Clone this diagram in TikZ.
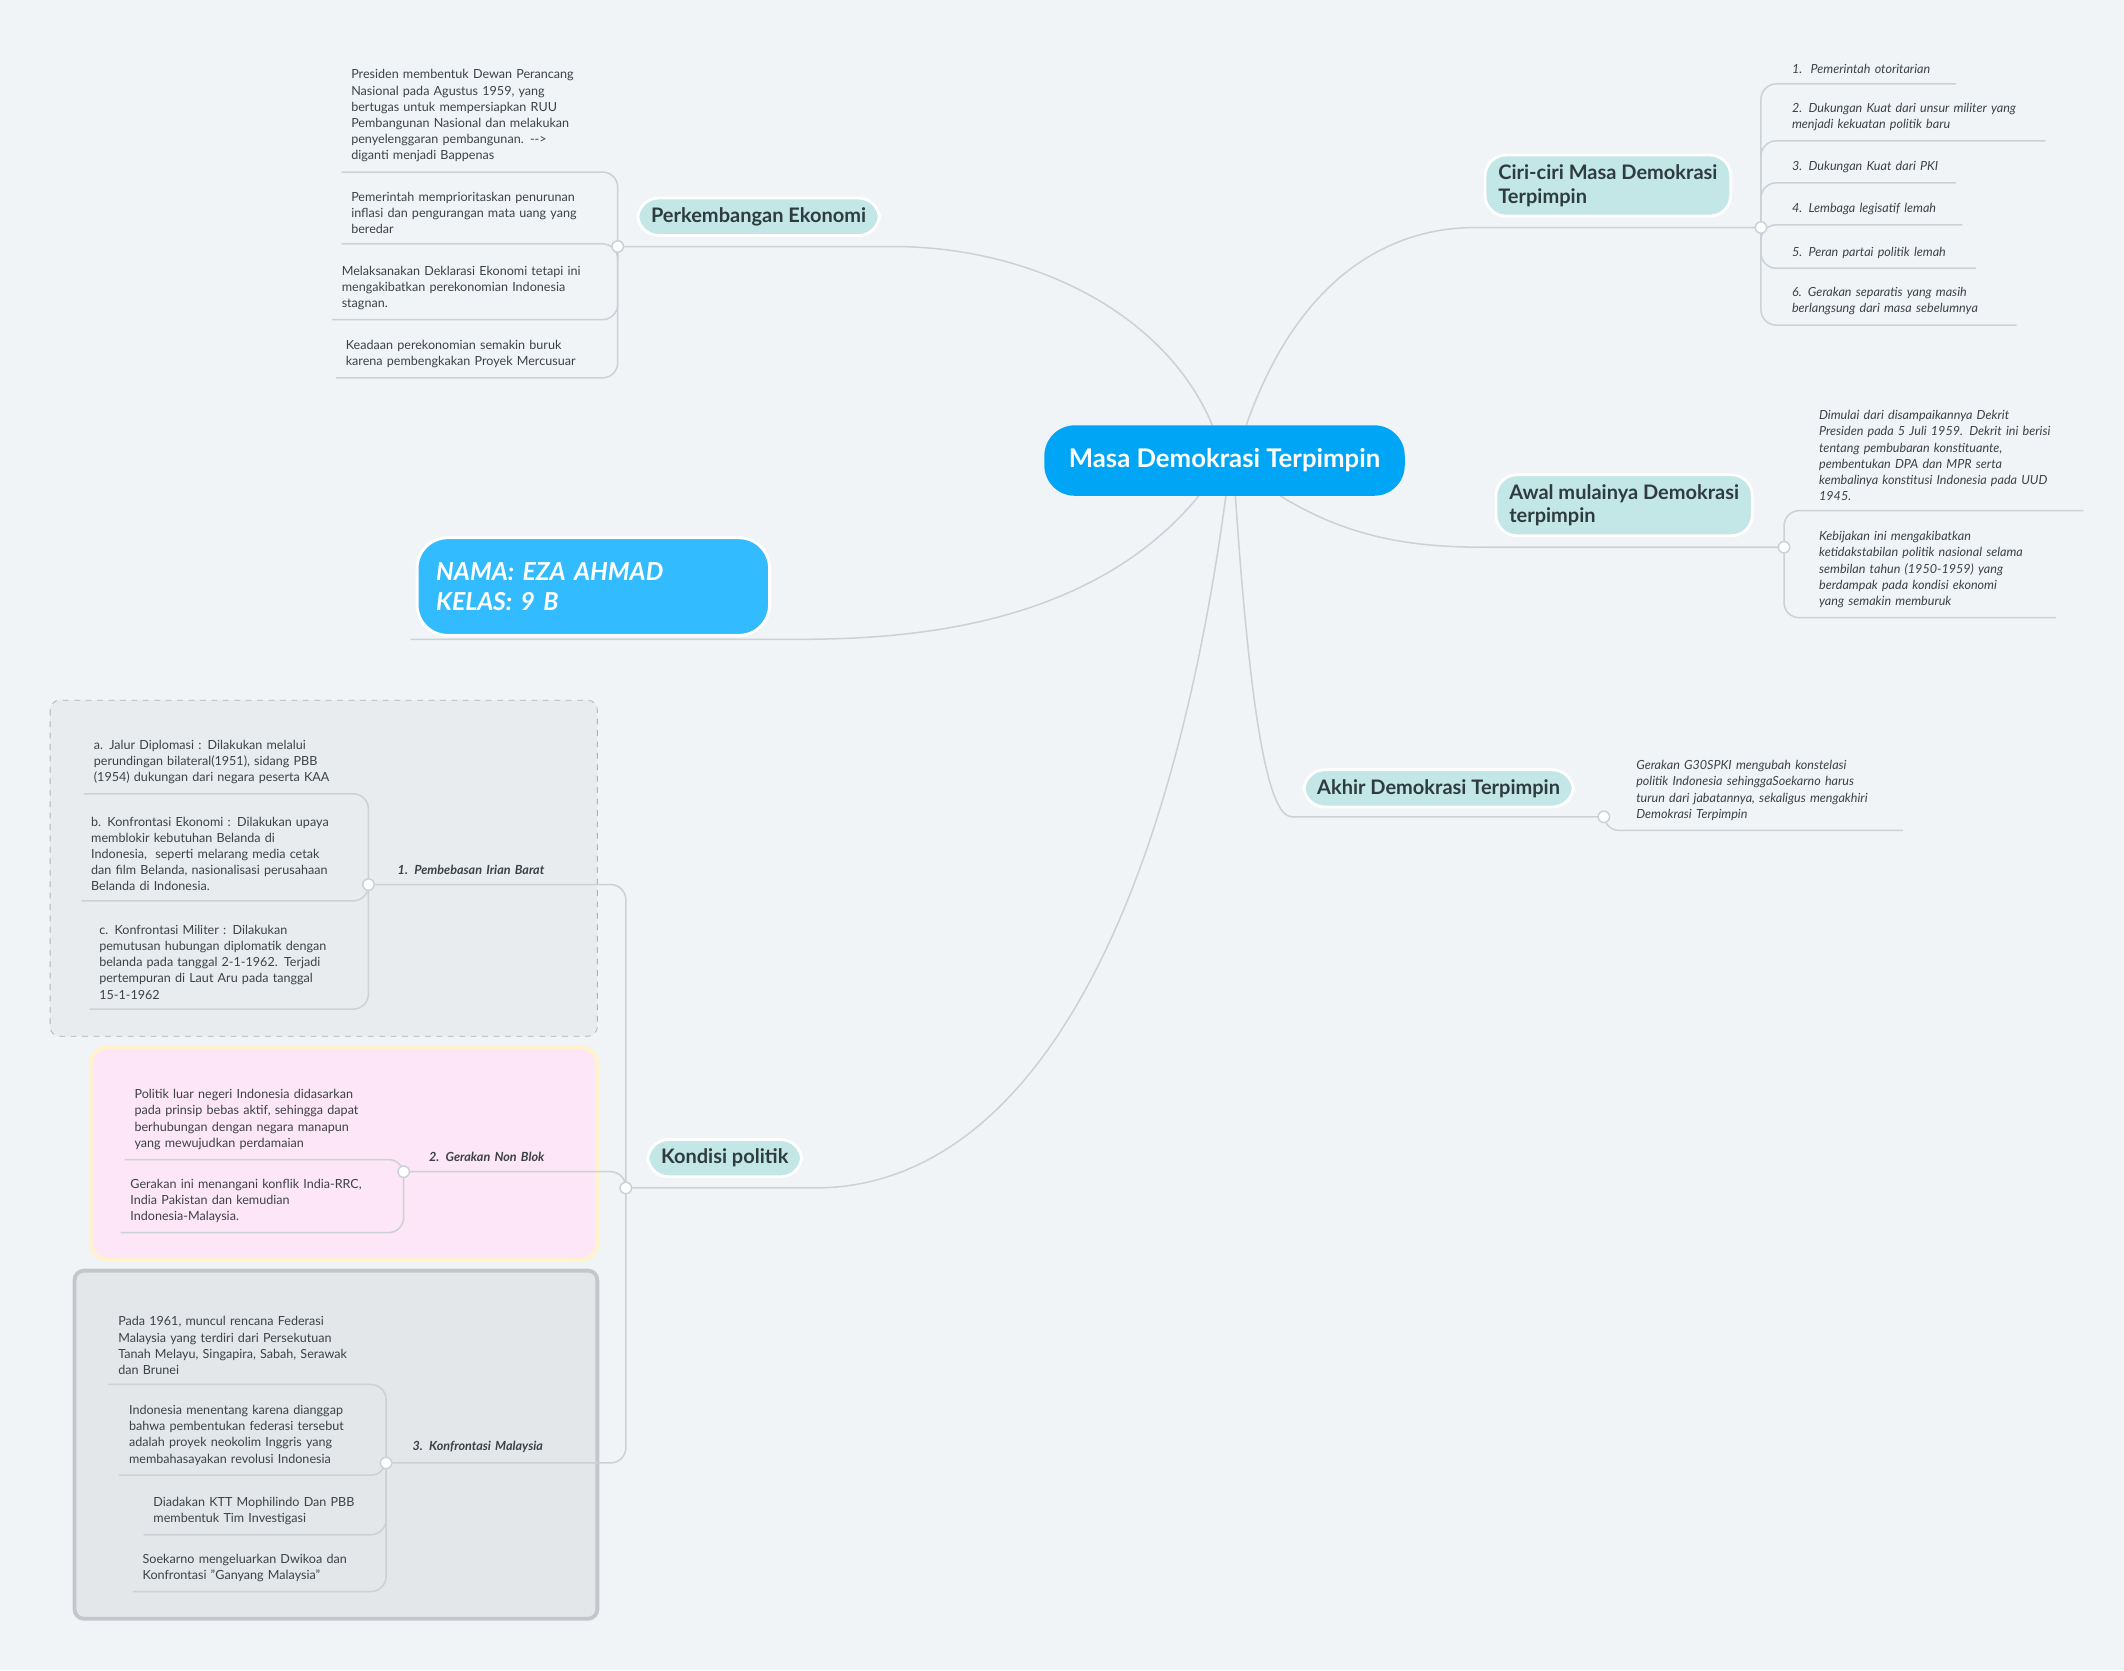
\documentclass[tikz,border=0pt]{standalone}
\usepackage{fontspec}
\setmainfont{Lato}
\usetikzlibrary{calc}

\definecolor{bgc}{HTML}{F0F4F7}
\definecolor{linec}{HTML}{CCD1D5}
\definecolor{mainc}{HTML}{00A5F6}
\definecolor{namec}{HTML}{33BBFF}
\definecolor{topicc}{HTML}{C3E6E6}
\definecolor{topict}{HTML}{2E3B40}
\definecolor{leaft}{HTML}{3C4247}
\definecolor{boxa}{HTML}{E8ECEF}
\definecolor{boxb}{HTML}{FDE6F7}
\definecolor{boxbl}{HTML}{FFF2CC}
\definecolor{boxc}{HTML}{E3E7EA}
\definecolor{boxcl}{HTML}{C3C7CB}

\tikzset{
  branch/.style={linec, line width=0.8pt, rounded corners=8pt},
  topic/.style={fill=topicc, draw=white, line width=1.5pt, rounded corners=11pt, text=topict,
    font=\fontsize{10.5}{12.5}\selectfont\bfseries, align=left, inner xsep=7pt, inner ysep=5pt},
  leaf/.style={text=leaft, font=\fontsize{6.6}{8.5}\selectfont, align=left, inner xsep=5pt, inner ysep=5pt},
  ileaf/.style={leaf, font=\fontsize{6.6}{8.5}\selectfont\itshape, inner xsep=9pt},
  label/.style={leaf, font=\fontsize{6.6}{8.5}\selectfont\bfseries\itshape, align=center},
  knot/.style={circle, draw=linec, fill=white, line width=0.8pt, inner sep=0pt, minimum size=6pt}
}

\begin{document}
\begin{tikzpicture}[x=0.025cm, y=-0.025cm]

	\fill[bgc] (0,0) rectangle (1568,1233);
	\useasboundingbox (0,0) rectangle (1568,1233);

	% boxes of the politics branch
	\draw[gray!60, dashed, fill=boxa, rounded corners=5pt] (37,517) rectangle (441,765);
	\draw[boxbl, line width=2pt, fill=boxb, rounded corners=9pt] (67,773) rectangle (441,930);
	\draw[boxcl, line width=2pt, fill=boxc, rounded corners=5pt] (55,938) rectangle (441,1195);

	% junction points
	\coordinate (jp) at (456,182);
	\coordinate (jc) at (1300,168);
	\coordinate (ja) at (1317,404);
	\coordinate (jk) at (1184,603);
	\coordinate (jo) at (462,877);
	\coordinate (ji) at (272,653);
	\coordinate (jg) at (298,865);
	\coordinate (jm) at (285,1080);

	% main connectors
	\draw[branch] (895,314) .. controls (860,230) and (760,182) .. (648,182) -- (jp);
	\draw[branch] (920,314) .. controls (960,200) and (1030,168) .. (1100,168) -- (jc);
	\draw[branch] (945,366) .. controls (1000,400) and (1050,404) .. (1110,404) -- (ja);
	\draw[branch] (912,366) .. controls (925,560) and (940,603) .. (965,603) -- (jk);
	\draw[branch] (885,366) .. controls (800,470) and (650,472) .. (571,472) -- (303,472);
	\draw[branch] (905,366) .. controls (860,700) and (750,877) .. (590,877) -- (jo);

	\node[fill=mainc, rounded corners=16pt, text=white, font=\fontsize{13.5}{16}\selectfont\bfseries,
	      minimum width=6.65cm, minimum height=1.3cm] (main) at (904,340) {Masa Demokrasi Terpimpin};
	\node[fill=namec, draw=white, line width=1.5pt, rounded corners=16pt, text=white, align=left,
	      font=\fontsize{13}{16}\selectfont\bfseries\itshape, text width=5.8cm, inner xsep=10pt,
	      minimum height=1.8cm] (nama) at (438,433) {NAMA: EZA AHMAD\\KELAS: 9 B};

	\node[topic] (eko) at (560,160) {Perkembangan Ekonomi};
	\node[topic] (ciri) at (1187,137) {Ciri-ciri Masa Demokrasi\\Terpimpin};
	\node[topic] (awal) at (1199,373) {Awal mulainya Demokrasi\\terpimpin};
	\node[topic] (akhir) at (1062,582) {Akhir Demokrasi Terpimpin};
	\node[topic] (pol) at (535,855) {Kondisi politik};

	% Perkembangan Ekonomi
	\node[leaf, anchor=south west, text width=4.47cm] (p1) at (252,127) {Presiden membentuk Dewan Perancang\\Nasional pada Agustus 1959, yang\\bertugas untuk mempersiapkan RUU\\Pembangunan Nasional dan melakukan\\penyelenggaran pembangunan. -{}-{}>\\diganti menjadi Bappenas};
	\node[leaf, anchor=south west, text width=4.47cm] (p2) at (252,180) {Pemerintah memprioritaskan penurunan\\inflasi dan pengurangan mata uang yang\\beredar};
	\node[leaf, anchor=south west, text width=4.65cm] (p3) at (245,236) {Melaksanakan Deklarasi Ekonomi tetapi ini\\mengakibatkan perekonomian Indonesia\\stagnan.};
	\node[leaf, anchor=south west, text width=4.57cm] (p4) at (248,279) {Keadaan perekonomian semakin buruk\\karena pembengkakan Proyek Mercusuar};
	\foreach \n in {p1,p2,p3,p4}
		\draw[branch] (jp) |- (\n.south west);

	% Ciri-ciri
	\node[ileaf, anchor=south west, text width=2.7cm] (c1) at (1310,62) {1.\ \ Pemerintah otoritarian};
	\node[ileaf, anchor=south west, text width=4.35cm] (c2) at (1310,104) {2. Dukungan Kuat dari unsur militer yang\\menjadi kekuatan politik baru};
	\node[ileaf, anchor=south west, text width=2.7cm] (c3) at (1310,135) {3. Dukungan Kuat dari PKI};
	\node[ileaf, anchor=south west, text width=2.82cm] (c4) at (1310,166) {4. Lembaga legisatif lemah};
	\node[ileaf, anchor=south west, text width=3.07cm] (c5) at (1310,198) {5. Peran partai politik lemah};
	\node[ileaf, anchor=south west, text width=3.82cm] (c6) at (1310,240) {6. Gerakan separatis yang masih\\berlangsung dari masa sebelumnya};
	\foreach \n in {c1,c2,c3,c4,c5,c6}
		\draw[branch] (jc) |- (\n.south east);

	% Awal mulainya
	\node[ileaf, anchor=south west, text width=4.55cm] (a1) at (1330,377) {Dimulai dari disampaikannya Dekrit\\Presiden pada 5 Juli 1959. Dekrit ini berisi\\tentang pembubaran konstituante,\\pembentukan DPA dan MPR serta\\kembalinya konstitusi Indonesia pada UUD\\1945.};
	\node[ileaf, anchor=south west, text width=4.05cm] (a2) at (1330,456) {Kebijakan ini mengakibatkan\\ketidakstabilan politik nasional selama\\sembilan tahun (1950-1959) yang\\berdampak pada kondisi ekonomi\\yang semakin memburuk};
	\foreach \n in {a1,a2}
		\draw[branch] (ja) |- (\n.south east);

	% Akhir
	\node[ileaf, anchor=south west, text width=4.6cm] (k1) at (1195,613) {Gerakan G30SPKI mengubah konstelasi\\politik Indonesia sehinggaSoekarno harus\\turun dari jabatannya, sekaligus mengakhiri\\Demokrasi Terpimpin};
	\draw[branch] (jk) |- (k1.south east);

	% Kondisi politik
	\node[label, anchor=south west, text width=3.27cm] (irian) at (275,653) {1. Pembebasan Irian Barat};
	\node[label, anchor=south west, text width=2.7cm] (nonblok) at (298,865) {2. Gerakan Non Blok};
	\node[label, anchor=south west, text width=3.02cm] (malay) at (285,1080) {3. Konfrontasi Malaysia};
	\foreach \n in {irian,nonblok,malay}
		\draw[branch] (jo) |- (\n.south west);

	\node[leaf, anchor=south west, text width=4.65cm] (i1) at (62,586) {a. Jalur Diplomasi : Dilakukan melalui\\perundingan bilateral(1951), sidang PBB\\(1954) dukungan dari negara peserta KAA};
	\node[leaf, anchor=south west, text width=4.7cm] (i2) at (60,665) {b. Konfrontasi Ekonomi : Dilakukan upaya\\memblokir kebutuhan Belanda di\\Indonesia,\ \ seperti melarang media cetak\\dan film Belanda, nasionalisasi perusahaan\\Belanda di Indonesia.};
	\node[leaf, anchor=south west, text width=4.55cm] (i3) at (66,745) {c. Konfrontasi Militer : Dilakukan\\pemutusan hubungan diplomatik dengan\\belanda pada tanggal 2-1-1962. Terjadi\\pertempuran di Laut Aru pada tanggal\\15-1-1962};
	\foreach \n in {i1,i2,i3}
		\draw[branch] (ji) |- (\n.south west);

	\node[leaf, anchor=south west, text width=4.47cm] (g1) at (92,856) {Politik luar negeri Indonesia didasarkan\\pada prinsip bebas aktif, sehingga dapat\\berhubungan dengan negara manapun\\yang mewujudkan perdamaian};
	\node[leaf, anchor=south west, text width=4.55cm] (g2) at (89,910) {Gerakan ini menangani konflik India-RRC,\\India Pakistan dan kemudian\\Indonesia-Malaysia.};
	\foreach \n in {g1,g2}
		\draw[branch] (jg) |- (\n.south west);

	\node[leaf, anchor=south west, text width=4.45cm] (m1) at (80,1022) {Pada 1961, muncul rencana Federasi\\Malaysia yang terdiri dari Persekutuan\\Tanah Melayu, Singapira, Sabah, Serawak\\dan Brunei};
	\node[leaf, anchor=south west, text width=4.25cm] (m2) at (88,1089) {Indonesia menentang karena dianggap\\bahwa pembentukan federasi tersebut\\adalah proyek neokolim Inggris yang\\membahasayakan revolusi Indonesia};
	\node[leaf, anchor=south west, text width=3.8cm] (m3) at (106,1133) {Diadakan KTT Mophilindo Dan PBB\\membentuk Tim Investigasi};
	\node[leaf, anchor=south west, text width=3.99cm] (m4) at (98,1175) {Soekarno mengeluarkan Dwikoa dan\\Konfrontasi "Ganyang Malaysia"};
	\foreach \n in {m1,m2,m3,m4}
		\draw[branch] (jm) |- (\n.south west);

	% knots
	\foreach \j in {jp,jc,ja,jk,jo,ji,jg,jm}
		\node[knot] at (\j) {};

\end{tikzpicture}
\end{document}
